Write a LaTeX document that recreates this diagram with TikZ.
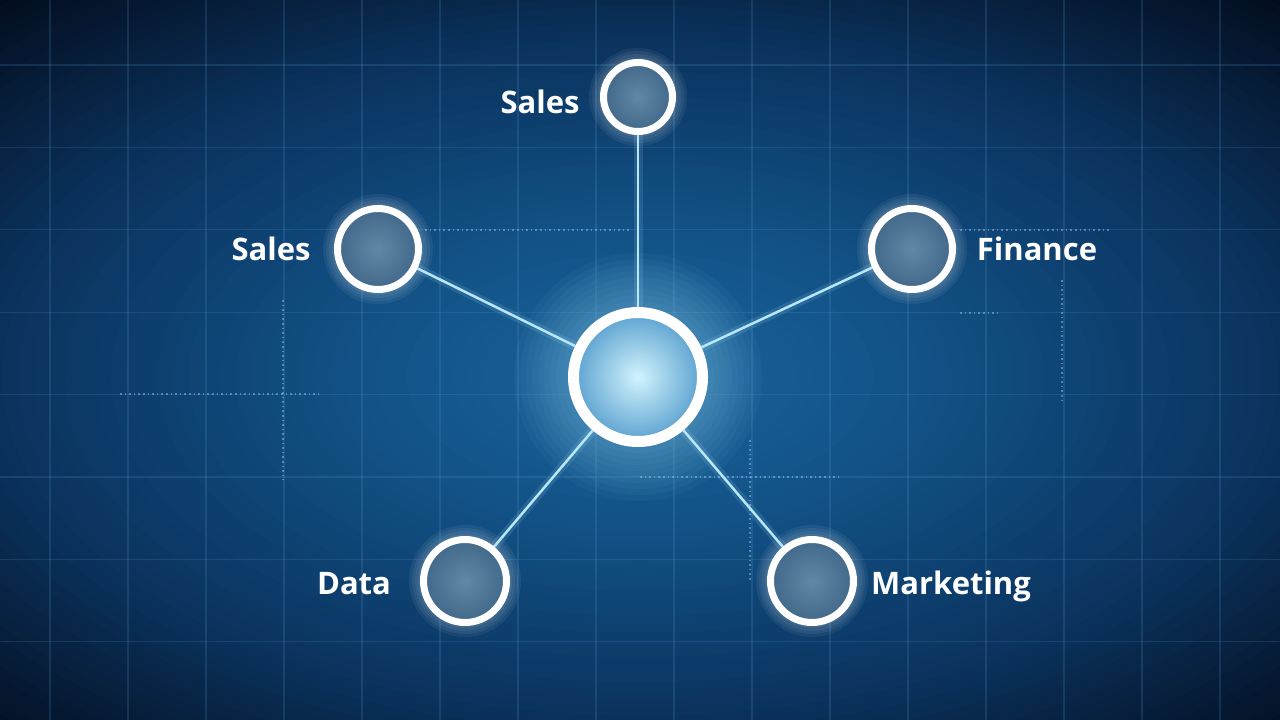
\documentclass[tikz,border=0pt]{standalone}
\usepackage{fontspec}
\setmainfont{Open Sans}
\definecolor{bgout}{RGB}{5,18,40}
\definecolor{gridc}{RGB}{90,160,215}
\definecolor{edgec}{RGB}{185,230,250}
\definecolor{satin}{RGB}{98,136,166}
\definecolor{satout}{RGB}{66,104,138}
\definecolor{cenin}{RGB}{210,243,253}
\definecolor{cenout}{RGB}{92,162,208}
\definecolor{glowc}{RGB}{150,215,248}
\pgfdeclarelayer{bg}
\pgfdeclarelayer{edges}
\pgfsetlayers{bg,edges,main}
\tikzset{
  sat/.style={circle, draw=white, line width=7pt, inner color=satin, outer color=satout, inner sep=0pt},
  hub/.style={circle, draw=white, line width=11pt, inner color=cenin, outer color=cenout, inner sep=0pt, minimum size=129pt},
  lbl/.style={text=white, font=\fontsize{31}{38}\selectfont\bfseries, inner sep=0pt, anchor=base},
  link/.style={draw=edgec, line width=2.5pt},
  linkglow/.style={draw=glowc, line width=9pt, opacity=0.15},
  gridline/.style={draw=gridc, line width=1.3pt, opacity=0.18},
  griddot/.style={draw=gridc!60!white, line width=1.6pt, opacity=0.5, dash pattern=on 1.6pt off 3pt},
}
\begin{document}
\begin{tikzpicture}[x=1pt,y=-1pt]
\useasboundingbox (0,0) rectangle (1280,720);
% nodes
\node[hub] (hub) at (638,377) {};
\node[sat, minimum size=69pt] (top) at (638,97) {};
\node[sat, minimum size=81pt] (left) at (378,249) {};
\node[sat, minimum size=81pt] (fin) at (912,249) {};
\node[sat, minimum size=83pt] (data) at (465,581) {};
\node[sat, minimum size=83pt] (mkt) at (812,581) {};
% labels
\node[lbl] (ltop) at (540,113) {Sales};
\node[lbl] (lleft) at (271,260) {Sales};
\node[lbl] (lfin) at (1037,260) {Finance};
\node[lbl] (ldata) at (354,594) {Data};
\node[lbl] (lmkt) at (951,594) {Marketing};
% background and grid
\begin{pgfonlayer}{bg}
  \fill[bgout] (0,0) rectangle (1280,720);
  \begin{scope}
  \clip (0,0) rectangle (1280,720);
  \foreach \i in {0,...,63} {
    \pgfmathsetmacro\f{1.1*(1-\i/64)}
    \pgfmathtruncatemacro\cr{\f<0.35 ? 26-8*\f/0.35 : (\f<0.7 ? 18-7*(\f-0.35)/0.35 : 11-6*(\f-0.7)/0.3)}
    \pgfmathtruncatemacro\cg{\f<0.35 ? 100-20*\f/0.35 : (\f<0.7 ? 80-28*(\f-0.35)/0.35 : 52-32*(\f-0.7)/0.3)}
    \pgfmathtruncatemacro\cb{\f<0.35 ? 155-23*\f/0.35 : (\f<0.7 ? 132-37*(\f-0.35)/0.35 : 95-53*(\f-0.7)/0.3)}
    \definecolor{bgstep}{RGB}{\cr,\cg,\cb}
    \fill[bgstep] (640,377) ellipse [x radius={905*\f*1pt}, y radius={480*\f*1pt}];
  }
  \end{scope}
  \foreach \i in {0,...,15} \draw[gridline] ({50+78*\i},0) -- ({50+78*\i},720);
  \foreach \i in {0,...,7} \draw[gridline] (0,{65+82.4*\i}) -- (1280,{65+82.4*\i});
  \draw[griddot] (425,230) -- (632,230);
  \draw[griddot] (960,230) -- (1110,230);
  \draw[griddot] (1062,280) -- (1062,400);
  \draw[griddot] (120,394) -- (320,394);
  \draw[griddot] (750,440) -- (750,580);
  \draw[griddot] (640,477) -- (840,477);
  \draw[griddot] (283,300) -- (283,480);
  \draw[griddot] (960,313) -- (1000,313);
\end{pgfonlayer}
% glows and connectors
\begin{pgfonlayer}{edges}
  \foreach \r in {70,76,...,124} \fill[glowc, opacity=0.045] (hub.center) circle ({\r*1pt});
  \foreach \n/\rr in {top/38,left/44,fin/44,data/45,mkt/45} {
    \foreach \k in {2,5,8,11} \fill[white, opacity=0.06] (\n.center) circle ({(\rr+\k)*1pt});
  }
  \foreach \n in {top,left,fin,data,mkt} {
    \draw[linkglow] (hub) -- (\n);
    \draw[link] (hub) -- (\n);
  }
\end{pgfonlayer}
\end{tikzpicture}
\end{document}
